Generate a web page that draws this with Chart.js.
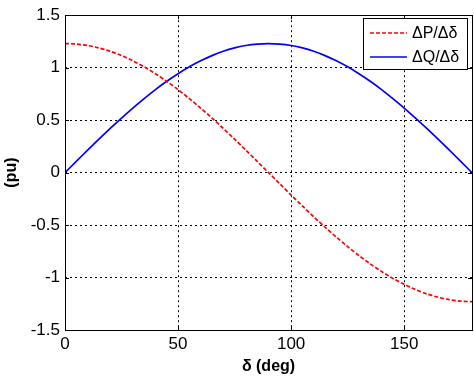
<!DOCTYPE html>
<html><head><meta charset="utf-8">
<script src="https://cdn.jsdelivr.net/npm/chart.js@4"></script>
<style>html,body{margin:0;padding:0;background:#fff}#wrap{width:474px;height:380px}</style>
</head><body><div id="wrap"><canvas id="c" width="474" height="380"></canvas></div>
<script>
const deltaDeg = [0,5,10,15,20,25,30,35,40,45,50,55,60,65,70,75,80,85,90,95,100,105,110,115,120,125,130,135,140,145,150,155,160,165,170,175,180];
const dPdDelta = [1.23,1.225,1.211,1.188,1.156,1.115,1.065,1.008,0.942,0.870,0.791,0.705,0.615,0.520,0.421,0.318,0.214,0.107,0.0,-0.107,-0.214,-0.318,-0.421,-0.520,-0.615,-0.705,-0.791,-0.870,-0.942,-1.008,-1.065,-1.115,-1.156,-1.188,-1.211,-1.225,-1.23];
const dQdDelta = [0.0,0.107,0.214,0.318,0.421,0.520,0.615,0.705,0.791,0.870,0.942,1.008,1.065,1.115,1.156,1.188,1.211,1.225,1.23,1.225,1.211,1.188,1.156,1.115,1.065,1.008,0.942,0.870,0.791,0.705,0.615,0.520,0.421,0.318,0.214,0.107,0.0];
const xTicks = [0,50,100,150];
const yTicks = [-1.5,-1,-0.5,0,0.5,1,1.5];
const seriesNames = ['\u0394P/\u0394\u03b4','\u0394Q/\u0394\u03b4'];
const xTitle = '\u03b4 (deg)';
const yTitle = '(pu)';

const FONT = 'Liberation Sans, Arial, sans-serif';

const boxPlugin = {
  id: 'box',
  afterDraw(chart) {
    const {ctx, chartArea: a, scales} = chart;
    ctx.save();
    ctx.strokeStyle = '#000';
    ctx.lineWidth = 1;
    ctx.setLineDash([]);
    ctx.strokeRect(Math.round(a.left)+0.5, Math.round(a.top)+0.5, Math.round(a.right-a.left), Math.round(a.bottom-a.top));
    const tl = 4;
    ctx.beginPath();
    xTicks.forEach(v => {
      const x = Math.round(scales.x.getPixelForValue(v))+0.5;
      ctx.moveTo(x, a.bottom); ctx.lineTo(x, a.bottom - tl);
      ctx.moveTo(x, a.top); ctx.lineTo(x, a.top + tl);
    });
    yTicks.forEach(v => {
      const y = Math.round(scales.y.getPixelForValue(v))+0.5;
      ctx.moveTo(a.left, y); ctx.lineTo(a.left + tl, y);
      ctx.moveTo(a.right, y); ctx.lineTo(a.right - tl, y);
    });
    ctx.stroke();
    // legend
    const lx = 363.5, ly = 18.5, lw = 104, lh = 51;
    ctx.fillStyle = '#fff';
    ctx.fillRect(lx, ly, lw, lh);
    ctx.strokeRect(lx, ly, lw, lh);
    const rows = [33, 57];
    chart.data.datasets.forEach((ds, i) => {
      ctx.beginPath();
      ctx.strokeStyle = ds.borderColor;
      ctx.lineWidth = 1.5;
      ctx.setLineDash(ds.borderDash || []);
      ctx.moveTo(370, rows[i]); ctx.lineTo(407, rows[i]);
      ctx.stroke();
      ctx.setLineDash([]);
      ctx.fillStyle = '#000';
      ctx.font = '16px ' + FONT;
      ctx.textBaseline = 'middle';
      ctx.textAlign = 'left';
      ctx.fillText(ds.label, 412, rows[i] + 1);
    });
    ctx.restore();
  }
};

new Chart(document.getElementById('c'), {
  type: 'line',
  data: {
    datasets: [
      { label: seriesNames[0], data: deltaDeg.map((d,i)=>({x:d,y:dPdDelta[i]})), borderColor: '#ff0000', borderWidth: 1.7, borderDash: [4,2], pointRadius: 0, tension: 0.3, fill: false },
      { label: seriesNames[1], data: deltaDeg.map((d,i)=>({x:d,y:dQdDelta[i]})), borderColor: '#0000ff', borderWidth: 1.7, pointRadius: 0, tension: 0.3, fill: false }
    ]
  },
  options: {
    responsive: false,
    animation: false,
    layout: { padding: { top: 13, right: 2, left: 0, bottom: 0 } },
    plugins: { legend: { display: false }, tooltip: { enabled: false } },
    scales: {
      x: {
        type: 'linear', min: 0, max: 180,
        afterBuildTicks: s => { s.ticks = xTicks.map(v => ({value: v})); },
        afterFit: s => { s.height = 50; },
        grid: { color: '#000', lineWidth: 1, drawTicks: false },
        border: { display: false, dash: [2,3] },
        ticks: { color: '#000', font: { family: FONT, size: 17 }, padding: 4, maxRotation: 0 },
        title: { display: true, text: xTitle, color: '#000', font: { family: FONT, size: 16, weight: 'bold' }, padding: { top: 0, bottom: 4 } }
      },
      y: {
        type: 'linear', min: -1.5, max: 1.5,
        afterBuildTicks: s => { s.ticks = yTicks.map(v => ({value: v})); },
        afterFit: s => { s.width = 65; },
        grid: { color: '#000', lineWidth: 1, drawTicks: false },
        border: { display: false, dash: [2,3] },
        ticks: { color: '#000', font: { family: FONT, size: 17 }, padding: 5, callback: v => String(v) },
        title: { display: true, text: yTitle, color: '#000', font: { family: FONT, size: 16, weight: 'bold' }, padding: { top: 2, bottom: 0 } }
      }
    }
  },
  plugins: [boxPlugin]
});
</script></body></html>
